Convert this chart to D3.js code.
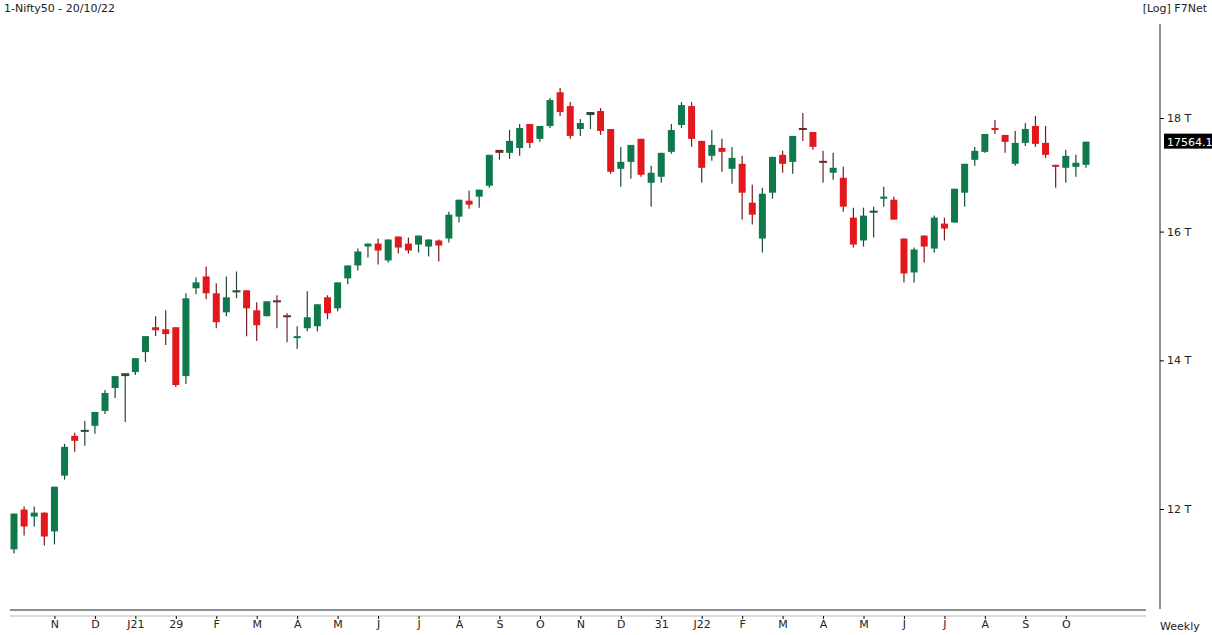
<!DOCTYPE html>
<html><head><meta charset="utf-8">
<script src="https://cdn.jsdelivr.net/npm/d3@7"></script>
<style>body{margin:0;background:#fff;}svg{display:block;font-family:Verdana,"DejaVu Sans",sans-serif;}</style>
</head><body><svg id="c" width="1212" height="635"></svg>
<script>
const opens=[11508,11993,11906,11955,11724,12422,12946,12999,13081,13285,13604,13773,13831,14120,14489,14459,14489,13773,15086,15273,15008,14715,15024,15055,14746,14655,14884,14655,14326,14474,14504,14946,14776,15242,15448,15754,15802,15528,15918,15802,15786,15754,15853,15885,16250,16521,16590,16779,17397,17361,17450,17889,17615,17852,18487,18224,17796,18056,18130,17796,17076,17200,17615,16831,16936,17379,17870,18224,17578,17307,17450,17076,17165,16487,15885,16658,17325,17200,17796,17741,17200,17006,16918,16233,15853,16317,16555,16538,15885,15336,15934,15721,16133,16150,16658,17236,17379,17815,17687,17165,17542,17852,17542,17147,17094,17111,17147];
const highs=[11943,12030,12030,11955,12281,12838,12986,13148,13271,13576,13773,13788,14032,14356,14655,14746,14489,15008,15257,15432,15164,15273,15352,15055,14869,14884,14977,14700,14504,15039,14838,14977,15179,15448,15721,15802,15885,15869,15918,15902,15934,15869,15869,16334,16538,16693,16710,17325,17397,17778,17889,17889,17852,18375,18567,18300,17982,18093,18187,17796,17469,17505,17615,17129,17361,17889,18300,18300,17578,17778,17615,17469,17307,16796,16745,17289,17397,17669,18093,17741,17397,17361,17111,16402,16402,16419,16762,16590,15885,15737,15934,16267,16233,16727,17165,17469,17705,17963,17687,17760,17907,18037,17852,17147,17415,17325,17560];
const lows=[11460,11675,11784,11555,11567,12370,12734,12812,12973,13243,13465,13134,13788,13975,14356,14223,13618,13660,14992,14915,14474,14655,14930,14356,14282,14655,14474,14267,14164,14429,14429,14610,14730,15148,15368,15576,15464,15496,15640,15640,15657,15592,15512,15820,16150,16385,16402,16745,17236,17254,17307,17450,17560,17815,18037,17615,17669,17796,17687,16989,16762,16900,16936,16419,16831,17343,17815,17469,16831,17218,17024,16814,16200,16116,15657,16555,17006,16989,17578,17415,16831,16883,16334,15737,15754,15902,16419,16200,15179,15179,15496,15657,15853,16150,16419,17129,17361,17705,17361,17129,17487,17469,17271,16745,16831,16936,17094];
const closes=[11943,11784,11955,11663,12281,12799,12879,13013,13271,13534,13773,13800,14032,14356,14444,14386,13646,14930,15179,15008,14565,14946,15039,14776,14519,14884,14869,14640,14356,14640,14838,14700,15179,15448,15673,15802,15689,15869,15737,15689,15934,15869,15770,16283,16538,16453,16710,17325,17361,17578,17815,17542,17852,18338,18111,17669,17907,18093,17760,17024,17200,17505,16971,17006,17361,17778,18243,17615,17094,17505,17379,17271,16658,16283,16641,17289,17165,17669,17778,17469,17183,17094,16419,15786,16267,16334,16590,16200,15320,15705,15754,16233,16050,16727,17165,17397,17705,17778,17560,17542,17796,17524,17325,17111,17307,17183,17564];
const monthLabels=["N","D","J21","29","F","M","A","M","J","J","A","S","O","N","D","31","J22","F","M","A","M","J","J","A","S","O"];
const monthIdx=[4,8,12,16,20,24,28,32,36,40,44,48,52,56,60,64,68,72,76,80,84,88,92,96,100,104];
const yTicks=[12000,14000,16000,18000];
const lastPrice=17564.1;

const svg=d3.select("#c");
const x=d3.scaleLinear().domain([0,106]).range([14,1086]);
const y=d3.scaleLog().domain([12000,18000]).range([509,118]);
const GREEN="#0e7a4c",RED="#e3181c";

// axes lines
svg.append("line").attr("x1",1160).attr("x2",1160).attr("y1",24).attr("y2",609).attr("stroke","#222");
svg.append("line").attr("x1",10).attr("x2",1146).attr("y1",610).attr("y2",610).attr("stroke","#222");
svg.append("line").attr("x1",10).attr("x2",1146).attr("y1",616).attr("y2",616).attr("stroke","#bbb");

const ya=svg.append("g").attr("transform","translate(1160,0)")
 .call(d3.axisRight(y).tickValues(yTicks).tickSize(4).tickFormat(d=>(d/1000)+" T"));
ya.select(".domain").remove();
ya.selectAll("text").attr("font-size",11).attr("fill","#222").attr("font-family","Verdana,DejaVu Sans");

const xa=svg.append("g").attr("transform","translate(0,616)")
 .call(d3.axisBottom(x).tickValues(monthIdx).tickSize(3).tickFormat((d,i)=>monthLabels[i]));
xa.select(".domain").remove();
xa.selectAll("text").attr("font-size",11).attr("fill","#222").attr("dy","0.55em").attr("font-family","Verdana,DejaVu Sans");

svg.append("text").attr("x",4).attr("y",12).attr("font-size",11).attr("fill","#222").text("1-Nifty50 - 20/10/22");
svg.append("text").attr("x",1207).attr("y",12).attr("text-anchor","end").attr("font-size",11).attr("fill","#222").text("[Log] F7Net");
svg.append("text").attr("x",1160).attr("y",630).attr("font-size",11).attr("fill","#222").text("Weekly");

const data=opens.map((o,i)=>({i,o,h:highs[i],l:lows[i],c:closes[i]}));
const g=svg.append("g");
data.forEach(d=>{
  const up=d.c>=d.o, col=up?GREEN:RED;
  const top=y(Math.max(d.o,d.c)), bot=y(Math.min(d.o,d.c));
  const doji=bot-top<2;
  const wc=doji?(up?"#2a4a3a":"#6a2a2a"):(up?"#1d4a35":"#7a1a1a");
  g.append("line").attr("x1",x(d.i)).attr("x2",x(d.i)).attr("y1",y(d.h)).attr("y2",y(d.l)).attr("stroke",wc).attr("stroke-width",1.2);
  if(doji){
    g.append("rect").attr("x",x(d.i)-4).attr("width",8).attr("y",top-1).attr("height",Math.max(2,bot-top+1)).attr("fill",wc);
  } else {
    g.append("rect").attr("x",x(d.i)-3.5).attr("width",7).attr("y",top).attr("height",bot-top).attr("fill",col);
  }
});

// last price tag
const ly=y(lastPrice);
svg.append("rect").attr("x",1164).attr("y",ly-8).attr("width",48).attr("height",15).attr("fill","#000");
svg.append("text").attr("x",1167).attr("y",ly+4).attr("font-size",11).attr("fill","#fff").text("17564.1");
</script></body></html>
